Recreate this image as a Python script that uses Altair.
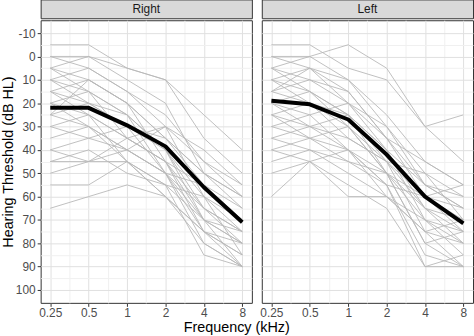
import altair as alt
import pandas as pd

freqs = [0.25, 0.5, 1, 2, 4, 8]
ears = ["Right", "Left"]

# individual audiograms (dB HL at 0.25, 0.5, 1, 2, 4, 8 kHz)
right_lines = [
    [-5, -5, 5, 10, 25, 40],
    [0, 0, 5, 10, 35, 50],
    [0, 5, 15, 25, 45, 55],
    [5, 0, 10, 20, 50, 60],
    [5, 10, 20, 35, 55, 70],
    [10, 5, 15, 30, 60, 75],
    [10, 15, 25, 40, 65, 80],
    [15, 10, 20, 45, 70, 90],
    [15, 20, 30, 35, 50, 65],
    [20, 15, 25, 40, 60, 85],
    [20, 25, 35, 45, 75, 90],
    [25, 20, 30, 50, 55, 70],
    [25, 30, 40, 30, 45, 60],
    [30, 25, 35, 45, 65, 75],
    [30, 35, 30, 40, 70, 80],
    [10, 20, 25, 50, 80, 90],
    [35, 30, 45, 55, 60, 70],
    [40, 35, 40, 50, 75, 85],
    [40, 45, 35, 45, 55, 65],
    [45, 40, 50, 55, 85, 90],
    [45, 45, 40, 50, 65, 75],
    [50, 45, 45, 55, 70, 80],
    [55, 55, 45, 60, 80, 90],
    [65, 60, 55, 60, 75, 85],
    [20, 30, 40, 50, 70, 75],
    [15, 25, 45, 60, 75, 80],
    [5, 15, 35, 30, 40, 55],
    [25, 10, 20, 35, 50, 60],
]
left_lines = [
    [-5, -5, 5, 10, 30, 45],
    [0, 0, -5, 5, 30, 25],
    [0, 5, 10, 25, 45, 55],
    [5, 0, 10, 30, 55, 65],
    [5, 10, 15, 35, 60, 75],
    [10, 5, 20, 40, 70, 80],
    [10, 15, 25, 45, 75, 90],
    [15, 10, 20, 30, 50, 70],
    [15, 20, 25, 40, 65, 75],
    [20, 15, 30, 50, 80, 90],
    [20, 25, 20, 35, 55, 60],
    [25, 20, 35, 45, 60, 70],
    [25, 30, 25, 50, 70, 85],
    [30, 25, 40, 55, 90, 90],
    [30, 35, 30, 45, 65, 80],
    [35, 30, 40, 60, 75, 70],
    [40, 35, 45, 55, 85, 90],
    [40, 45, 40, 50, 60, 65],
    [45, 40, 50, 60, 75, 80],
    [50, 45, 60, 60, 70, 75],
    [60, 45, 55, 65, 90, 85],
    [10, 20, 30, 50, 65, 70],
    [20, 30, 35, 45, 50, 60],
    [5, 15, 25, 40, 55, 65],
    [15, 5, 15, 35, 45, 55],
    [35, 40, 45, 50, 80, 75],
    [25, 35, 40, 55, 60, 55],
]
right_mean = [22, 22, 29.5, 38.5, 56, 71]
left_mean = [19, 20.5, 27, 42, 60, 71.5]

x_major = [0.25, 0.5, 1, 2, 4, 8]
x_minor = [0.3536, 0.7071, 1.4142, 2.8284, 5.6569]
y_major = list(range(-10, 101, 10))
y_minor = list(range(-5, 96, 10))

FONT = "Liberation Sans"
PW, PH, SH = 213, 285, 19


def long_df(lines, ear):
    rows = []
    for i, vals in enumerate(lines):
        for f, v in zip(freqs, vals):
            rows.append({"id": f"{ear}{i}", "freq": f, "db": v})
    return pd.DataFrame(rows)


x_test = "indexof([" + ",".join(str(v) for v in x_major) + "], datum.value) >= 0"
y_test = "datum.value % 10 == 0"


def x_enc():
    return alt.X(
        "freq:Q",
        scale=alt.Scale(type="log", base=2, domain=[0.25 * 2 ** -0.25, 8 * 2 ** 0.25], nice=False),
        axis=alt.Axis(
            values=x_major + x_minor,
            labelExpr=f"({x_test}) ? '' + datum.value : ''",
            labelOverlap=False,
            labelFlush=False,
            labelFont=FONT,
            labelFontSize=12,
            labelColor="#4D4D4D",
            labelPadding=1,
            tickSize=3.5,
            tickColor={"condition": {"test": f"!({x_test})", "value": "rgba(0,0,0,0)"}, "value": "#333333"},
            domain=False,
            grid=True,
            gridColor={"condition": {"test": x_test, "value": "#E0E0E0"}, "value": "#F0F0F0"},
            gridWidth=1,
            title=None,
        ),
    )


def y_enc(show):
    common = dict(
        values=y_major + y_minor,
        domain=False,
        grid=True,
        gridColor={"condition": {"test": y_test, "value": "#E0E0E0"}, "value": "#F0F0F0"},
        gridWidth=1,
    )
    if show:
        axis = alt.Axis(
            **common,
            labelExpr=f"({y_test}) ? '' + datum.value : ''",
            labelOverlap=False,
            labelFlush=False,
            labelFont=FONT,
            labelFontSize=12,
            labelColor="#4D4D4D",
            labelPadding=2,
            tickSize=3.5,
            tickColor={"condition": {"test": f"!({y_test})", "value": "rgba(0,0,0,0)"}, "value": "#333333"},
            title="Hearing Threshold (dB HL)",
            titleFont=FONT,
            titleFontSize=14.5,
            titleFontWeight="normal",
            titleColor="black",
            titlePadding=0,
        )
    else:
        axis = alt.Axis(**common, labels=False, ticks=False, title=None)
    return alt.Y(
        "db:Q",
        scale=alt.Scale(domain=[-15.5, 105.5], reverse=True, nice=False, zero=False),
        axis=axis,
    )


def panel(ear, lines, mean, first):
    df = long_df(lines, ear)
    mdf = pd.DataFrame({"freq": freqs, "db": mean})
    X = x_enc()
    Y = y_enc(first)
    grey = alt.Chart(df).mark_line(color="#B8B8B8", strokeWidth=0.9).encode(
        x=X, y=Y, detail="id:N"
    )
    black = alt.Chart(mdf).mark_line(color="black", strokeWidth=4, strokeJoin="round").encode(
        x=X, y=Y
    )
    body = alt.layer(grey, black).properties(
        width=PW, height=PH,
        view=alt.ViewBackground(fill="white", stroke="#333333", strokeWidth=1, cornerRadius=0),
    )
    strip = alt.Chart(pd.DataFrame({"ear": [ear]})).mark_text(
        font=FONT, fontSize=12, color="#1A1A1A"
    ).encode(
        text="ear:N", x=alt.value(PW / 2), y=alt.value(SH / 2 + 0.5)
    ).properties(
        width=PW, height=SH,
        view=alt.ViewBackground(fill="#D9D9D9", stroke="#333333", strokeWidth=1, cornerRadius=0),
    )
    return alt.vconcat(strip, body, spacing=0)


chart = alt.hconcat(
    panel("Right", right_lines, right_mean, True),
    panel("Left", left_lines, left_mean, False),
    spacing=6,
).properties(
    padding={"left": -1, "top": -3, "right": 0, "bottom": 0},
    background="white",
    title=alt.TitleParams(
        "Frequency (kHz)", orient="bottom", anchor="middle", font=FONT,
        fontSize=14.5, fontWeight="normal", color="black", offset=2,
    ),
)

chart.save("out.html", embed_options={"renderer": "svg", "actions": False})
